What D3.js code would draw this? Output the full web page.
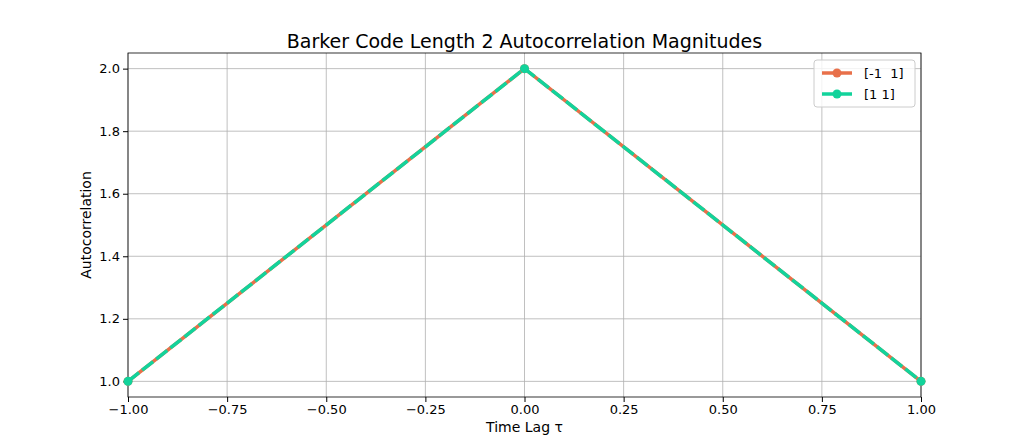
<!DOCTYPE html>
<html><head><meta charset="utf-8">
<script src="https://cdn.jsdelivr.net/npm/d3@7"></script>
<style>body{margin:0;background:#fff}text{font-family:"DejaVu Sans",sans-serif}</style>
</head><body><svg id="c" width="1024" height="444"></svg>
<script>
const lags = [-1, 0, 1];
const seriesA = [1, 2, 1];
const seriesB = [1, 2, 1];
const labels = ["[-1  1]", "[1 1]"];
const colors = ["#e8704a", "#12d39b"];
const xTicks = [-1, -0.75, -0.5, -0.25, 0, 0.25, 0.5, 0.75, 1];
const yTicks = [1.0, 1.2, 1.4, 1.6, 1.8, 2.0];

const svg = d3.select("#c");
const L = 128, R = 921, T = 53, B = 397;
const x = d3.scaleLinear().domain([-1, 1]).range([L, R]);
const y = d3.scaleLinear().domain([0.95, 2.05]).range([B, T]);

const grid = svg.append("g");
xTicks.forEach(t => grid.append("line").attr("x1", x(t)).attr("x2", x(t)).attr("y1", T).attr("y2", B).attr("stroke", "#b0b0b0").attr("stroke-width", 0.8));
yTicks.forEach(t => grid.append("line").attr("x1", L).attr("x2", R).attr("y1", y(t)).attr("y2", y(t)).attr("stroke", "#b0b0b0").attr("stroke-width", 0.8));

const xa = svg.append("g").attr("transform", `translate(0,${B})`)
  .call(d3.axisBottom(x).tickValues(xTicks).tickFormat(d3.format(".2f")).tickSize(5).tickSizeOuter(0));
const ya = svg.append("g").attr("transform", `translate(${L},0)`)
  .call(d3.axisLeft(y).tickValues(yTicks).tickFormat(d3.format(".1f")).tickSize(5).tickSizeOuter(0));
[xa, ya].forEach(a => { a.selectAll("text").attr("font-size", 13).attr("fill", "#000"); a.select(".domain").remove(); });
xa.selectAll("text").text(d => (d < 0 ? "\u2212" : "") + d3.format(".2f")(Math.abs(d)));
svg.append("rect").attr("x", L).attr("y", T).attr("width", R - L).attr("height", B - T).attr("fill", "none").attr("stroke", "#000").attr("stroke-width", 0.8);

const line = d3.line().x((d, i) => x(lags[i])).y(d => y(d));
const data = [seriesA, seriesB];
data.forEach((s, k) => {
  svg.append("path").attr("d", line(s)).attr("fill", "none").attr("stroke", colors[k]).attr("stroke-width", 3.5)
    .attr("stroke-dasharray", k === 1 ? "14,4" : null);
  svg.selectAll(null).data(s).enter().append("circle").attr("cx", (d, i) => x(lags[i])).attr("cy", d => y(d)).attr("r", 4.5).attr("fill", colors[k]);
});

svg.append("text").attr("x", (L + R) / 2).attr("y", 48).attr("text-anchor", "middle").attr("font-size", 19).text("Barker Code Length 2 Autocorrelation Magnitudes");
svg.append("text").attr("x", (L + R) / 2).attr("y", 432).attr("text-anchor", "middle").attr("font-size", 14).text("Time Lag \u03c4");
svg.append("text").attr("transform", `translate(91,${(T + B) / 2}) rotate(-90)`).attr("text-anchor", "middle").attr("font-size", 14).text("Autocorrelation");

const lg = svg.append("g").attr("transform", "translate(814,60)");
lg.append("rect").attr("width", 101).attr("height", 47).attr("rx", 3).attr("fill", "#fff").attr("fill-opacity", 0.8).attr("stroke", "#ccc");
labels.forEach((t, k) => {
  const yy = 13 + k * 21;
  lg.append("line").attr("x1", 8).attr("x2", 38).attr("y1", yy).attr("y2", yy).attr("stroke", colors[k]).attr("stroke-width", 3.5);
  lg.append("circle").attr("cx", 23).attr("cy", yy).attr("r", 4.5).attr("fill", colors[k]);
  lg.append("text").attr("x", 50).attr("y", yy + 5).attr("font-size", 13).attr("xml:space", "preserve").style("white-space", "pre").text(t);
});
</script></body></html>
